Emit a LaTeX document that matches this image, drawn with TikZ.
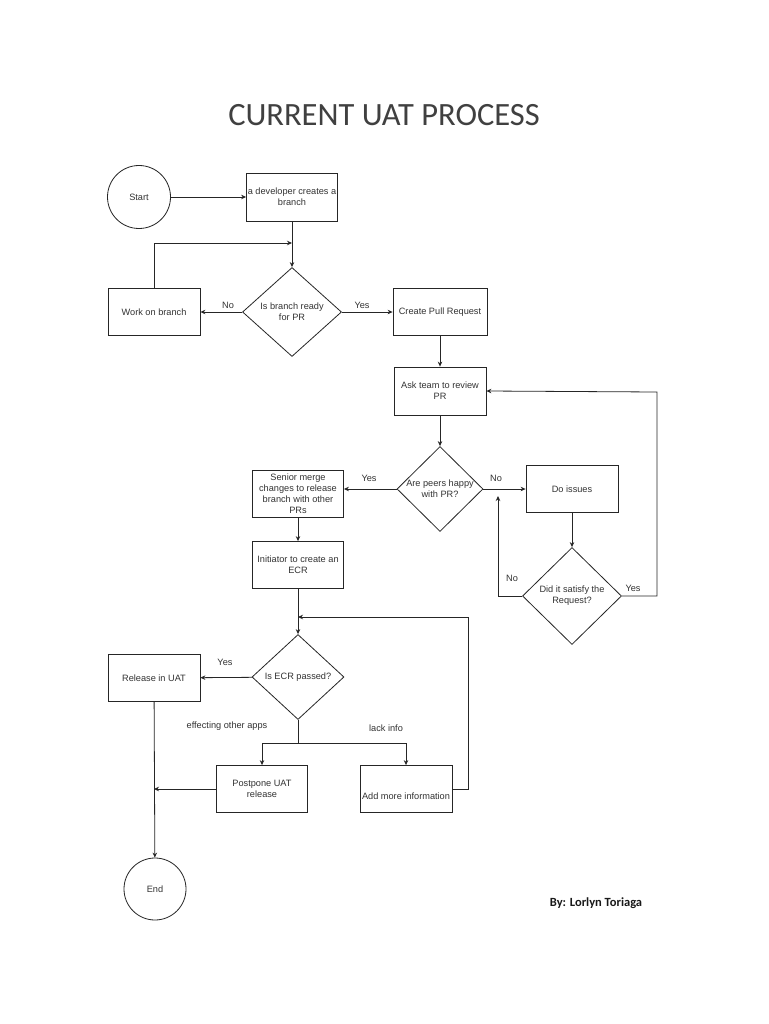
\documentclass[tikz,border=0pt]{standalone}
\usepackage{fontspec}
\setmainfont{Liberation Sans}
\newfontfamily\calib{Carlito}
\usetikzlibrary{shapes.geometric,arrows.meta}
\begin{document}
\begin{tikzpicture}[x=1pt,y=-1pt,
  base/.style={draw=black!85, line width=0.8pt, inner sep=0pt, font=\fontsize{9.2}{11}\selectfont, text=black!80, align=center},
  box/.style={base, rectangle, minimum width=92pt, minimum height=47pt},
  dia/.style={base, diamond},
  circ/.style={base, circle, minimum size=63pt},
  lab/.style={inner sep=0pt, font=\fontsize{9.2}{11}\selectfont, text=black!80},
  dtxt/.style={inner sep=0pt, font=\fontsize{9.2}{11}\selectfont, text=black!80, align=center},
  arr/.style={draw=black!85, line width=0.8pt, -{Stealth[length=5pt,width=4.5pt]}},
  ln/.style={draw=black!85, line width=0.8pt}
]
\useasboundingbox[fill=white] (0,0) rectangle (768,1024);

\node[text=black!75] (title) at (384,115) {\calib\fontsize{32.5}{38}\selectfont CURRENT UAT PROCESS};

\node[circ] (start) at (139,197) {Start};
\node[box, minimum width=91pt, minimum height=48pt] (dev) at (292,197) {a developer creates a\\branch};
\node[dia, minimum width=99pt, minimum height=89pt] (d1) at (292,312) {};
\node[dtxt] (d1t) at (292,312) {Is branch ready\\for PR};
\node[box] (work) at (154,312) {Work on branch};
\node[box, minimum width=94pt] (cpr) at (440,312) {Create Pull Request};
\node[box, minimum height=48pt] (ask) at (440,391) {Ask team to review\\PR};
\node[dia, minimum width=86pt, minimum height=85pt] (d2) at (440,489) {};
\node[dtxt] (d2t) at (440,489) {Are peers happy\\with PR?};
\node[box, minimum width=91pt] (sen) at (298,494) {Senior merge\\changes to release\\branch with other\\PRs};
\node[box] (iss) at (572,489) {Do issues};
\node[dia, minimum width=99pt, minimum height=97pt] (d3) at (572,596) {};
\node[dtxt] (d3t) at (572,596) {Did it satisfy the\\Request?};
\node[box, minimum width=91pt] (ini) at (298,565) {Initiator to create an\\ECR};
\node[dia, minimum width=92pt, minimum height=85pt] (d4) at (298,677) {};
\node[dtxt] (d4t) at (298,677) {Is ECR passed?};
\node[box] (rel) at (154,678) {Release in UAT};
\node[box, minimum width=91pt] (pp) at (262,789) {Postpone UAT\\release};
\node[box] (add) at (406,789) {\mbox{}\\[11pt]Add more information};
\begin{scope}
\clip (0,0) rectangle (768,920);
\node[circ, minimum size=62pt] (endc) at (155,889) {End};
\end{scope}

\node[text=black!90] (by) at (596,903) {\calib\bfseries\fontsize{12.5}{14}\selectfont By: Lorlyn Toriaga};

% labels
\node[lab] (l1) at (228,305) {No};
\node[lab] (l2) at (362,305) {Yes};
\node[lab] (l3) at (369,478) {Yes};
\node[lab] (l4) at (496,478) {No};
\node[lab] (l5) at (512,578) {No};
\node[lab] (l6) at (633,588) {Yes};
\node[lab] (l7) at (225,662) {Yes};
\node[lab] (l8) at (227,726) {effecting other apps};
\node[lab] (l9) at (386,728) {lack info};

% coordinates
\coordinate (j1) at (292,243);
\coordinate (j2) at (498,496);
\coordinate (j3) at (657,392);
\coordinate (j4) at (298,743);
\coordinate (j5) at (468,617);
\coordinate (j6) at (298,617);

% connectors
\draw[arr] (start) -- (dev);
\draw[arr] (dev) -- (d1);
\draw[arr] (work.north) |- (j1);
\draw[arr] (d1) -- (work);
\draw[arr] (d1) -- (cpr);
\draw[arr] (cpr) -- (ask);
\draw[arr] (ask) -- (d2);
\draw[arr] (d2.west) -- (d2.west -| sen.east);
\draw[arr] (d2) -- (iss);
\draw[arr] (iss) -- (d3);
\draw[arr] (d3.west) -| (j2);
\draw[arr] (d3.east) -| (j3) -- (ask.east);
\draw[arr] (sen) -- (ini);
\draw[arr] (ini) -- (d4);
\draw[arr] (d4) -- (rel);
\draw[ln] (d4.south) -- (j4);
\draw[arr] (j4) -| (pp.north);
\draw[arr] (j4) -| (add.north);
\draw[arr] (add.east) -| (j5) -- (j6);
\draw[arr] (rel) -- (endc);
\draw[arr] (pp.west) -- (pp.west -| rel.south);
\end{tikzpicture}
\end{document}
